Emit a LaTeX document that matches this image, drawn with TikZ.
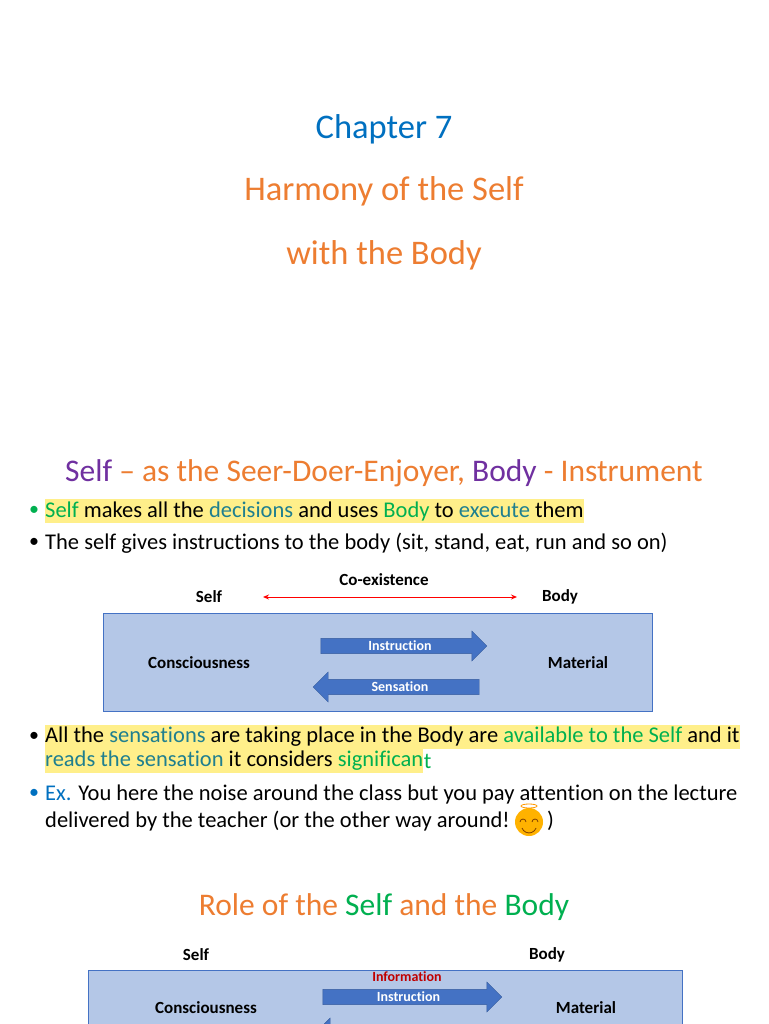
\documentclass[tikz,border=0pt]{standalone}
\usepackage{fontspec}
\setmainfont[Ligatures=NoCommon]{Carlito}
\usetikzlibrary{shapes.arrows,arrows.meta}
\definecolor{cblue}{HTML}{0070C0}
\definecolor{corange}{HTML}{ED7D31}
\definecolor{cpurple}{HTML}{7030A0}
\definecolor{cgreen}{HTML}{00B050}
\definecolor{cteal}{HTML}{1F7F8F}
\definecolor{hl}{HTML}{FFEF8A}
\definecolor{boxfill}{HTML}{B4C7E7}
\definecolor{boxline}{HTML}{4472C4}
\definecolor{arr}{HTML}{4472C4}
\definecolor{cred}{HTML}{C00000}
\begin{document}
\begin{tikzpicture}[x=1pt,y=-1pt,
  title/.style={font=\fontsize{34.5}{40}\selectfont},
  body/.style={font=\fontsize{22.5}{26}\selectfont,anchor=west,inner sep=0pt},
  hlbox/.style={body,fill=hl,inner ysep=2pt},
  lbl/.style={font=\bfseries\fontsize{17}{19}\selectfont},
  bul/.style={font=\fontsize{20}{24}\selectfont,inner sep=0pt},
  diag/.style={draw=boxline,fill=boxfill,line width=0.8pt},
  rarr/.style={single arrow,fill=arr,draw=arr!80!black,minimum width=30pt,single arrow head extend=6pt,minimum height=166pt,inner sep=1pt,text=white,font=\bfseries\fontsize{14}{15}\selectfont},
  larr/.style={rarr,shape border rotate=180}]
\useasboundingbox (0,0) rectangle (768,1024);
\fill[white] (0,0) rectangle (768,1024);
\node[title,text=cblue] (t1) at (384,129) {Chapter 7};
\node[title,text=corange] (t2) at (384,191) {Harmony of the Self};
\node[title,text=corange] (t3) at (384,255) {with the Body};
\node[font=\fontsize{31.5}{36}\selectfont] (h1) at (384,473) {\textcolor{cpurple}{Self} \textcolor{corange}{– as the Seer-Doer-Enjoyer,} \textcolor{cpurple}{Body} \textcolor{corange}{- Instrument}};
\node[bul,text=cgreen] (b1) at (34,511) {•};
\node[hlbox] (l1) at (45,511) {\textcolor{cgreen}{Self} makes all the \textcolor{cteal}{decisions} and uses \textcolor{cgreen}{Body} to \textcolor{cteal}{execute} them};
\node[bul] (b2) at (34,543) {•};
\node[body] (l2) at (45,543) {The self gives instructions to the body (sit, stand, eat, run and so on)};
% diagram 1
\node[lbl] (co) at (384,580) {Co-existence};
\node[lbl] (s1) at (209,597) {Self};
\node[lbl] (bd1) at (560,597) {Body};
\coordinate (ca) at (263,597); \coordinate (cb) at (517,597);
\draw[red,{Stealth[length=6pt,width=5pt]}-{Stealth[length=6pt,width=5pt]},line width=1pt] (ca) -- (cb);
\node[diag,minimum width=549pt,minimum height=98pt] (box1) at (377.5,662) {};
\node[lbl] (c1) at (199,663) {Consciousness};
\node[lbl] (m1) at (578,663) {Material};
\node[rarr] (ins1) at (400,646) {Instruction};
\node[larr] (sen1) at (400,687) {Sensation};
% bullets
\node[bul] (b3) at (34,737) {•};
\node[hlbox] (l3) at (45,737) {All the \textcolor{cteal}{sensations} are taking place in the Body are \textcolor{cgreen}{available to the Self} and it};
\node[hlbox] (l4) at (45,761) {\textcolor{cteal}{reads the sensation} it considers \textcolor{cgreen}{significan}};
\node[body,text=cgreen] (l4b) at (l4.east) {t};
\node[bul,text=cblue] (b4) at (34,794) {•};
\node[body] (l5) at (45,794) {\textcolor{cblue}{Ex.} You here the noise around the class but you pay attention on the lecture};
\node[body] (l6) at (45,821) {delivered by the teacher (or the other way around!};
\node[body] (l6b) at (547,821) {)};
\node[circle,fill=orange!60!yellow,minimum size=28pt,inner sep=0pt] (emo) at (529,822) {};
\draw[orange!50!black,line width=0.8pt] (520,822) arc (180:0:3pt);
\draw[orange!50!black,line width=0.8pt] (532,822) arc (180:0:3pt);
\draw[orange!50!black,line width=0.8pt] (522,828) arc (200:340:7.5pt);
\draw[orange!80!yellow,line width=0.8pt] (529,806) ellipse (8pt and 2pt);
% section 2
\node[font=\fontsize{31.5}{36}\selectfont] (h2) at (384,907) {\textcolor{corange}{Role of the} \textcolor{cgreen}{Self} \textcolor{corange}{and the} \textcolor{cgreen}{Body}};
\node[lbl] (s2) at (196,955) {Self};
\node[lbl] (bd2) at (547,955) {Body};
\node[diag,minimum width=594pt,minimum height=90pt] (box2) at (385,1015) {};
\node[lbl,text=cred,font=\bfseries\fontsize{14}{15}\selectfont] (inf) at (407,977) {Information};
\node[rarr,minimum height=179pt] (ins2) at (408.5,997) {Instruction};
\node[lbl] (c2) at (206,1008) {Consciousness};
\node[lbl] (m2) at (586,1008) {Material};
\node[larr,minimum height=179pt] (sen2) at (408.5,1033) {Sensation};
\end{tikzpicture}
\end{document}
